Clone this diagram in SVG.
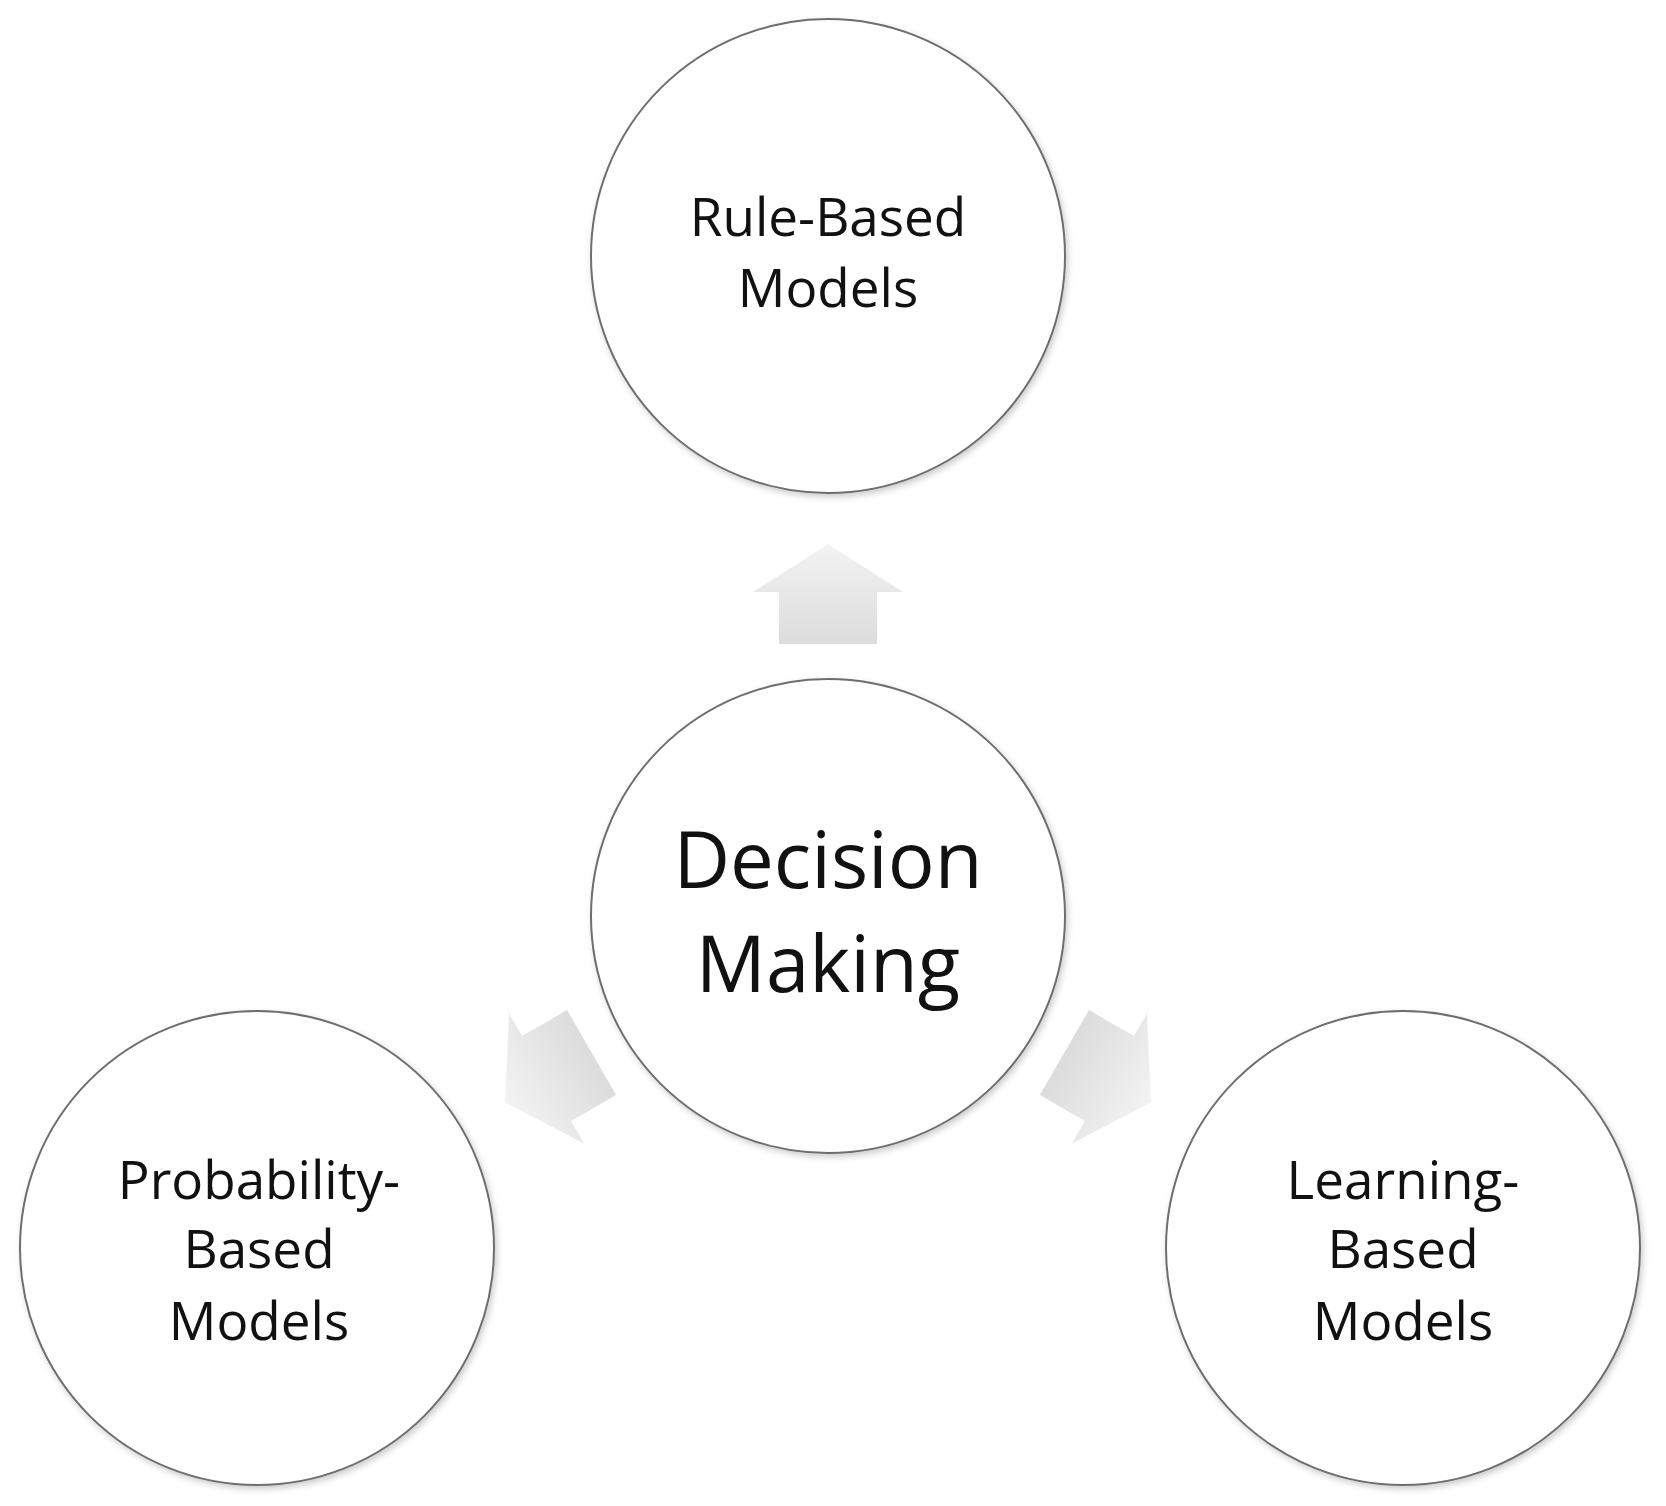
<svg xmlns="http://www.w3.org/2000/svg" width="1666" height="1506" viewBox="0 0 1666 1506">
<style>
.c{fill:#fff;stroke:#6e6e6e;stroke-width:2}
.t{font-family:"Open Sans","Liberation Sans",sans-serif;fill:#111;text-anchor:middle}
.s{font-size:53px}
.b{font-size:78px}
.a{fill:url(#g)}
</style>
<defs>
<linearGradient id="g" x1="0" y1="0" x2="0" y2="1">
<stop offset="0" stop-color="#f3f3f3"/><stop offset="1" stop-color="#dcdcdc"/>
</linearGradient>
<filter id="sh" x="-10%" y="-10%" width="120%" height="120%"><feDropShadow dx="2" dy="3" stdDeviation="3" flood-color="#000" flood-opacity="0.2"/></filter>
<path id="arr" d="M0,-50 L75,-2 L49,-2 L49,50 L-49,50 L-49,-2 L-75,-2 Z"/>
</defs>
<rect width="1666" height="1506" fill="#fff"/>
<g id="connectors">
<use href="#arr" class="a" transform="translate(828,594)"/>
<use href="#arr" class="a" transform="translate(828,916) rotate(-120) translate(0,-323)"/>
<use href="#arr" class="a" transform="translate(828,916) rotate(120) translate(0,-323)"/>
</g>
<g id="rule"><circle class="c" filter="url(#sh)" cx="828" cy="256" r="237"/>
<text class="t s" x="828" y="236">Rule-Based</text><text class="t s" x="828" y="307">Models</text></g>
<g id="decision"><circle class="c" filter="url(#sh)" cx="828" cy="916" r="237"/>
<text class="t b" x="828" y="888">Decision</text><text class="t b" x="828" y="992">Making</text></g>
<g id="probability"><circle class="c" filter="url(#sh)" cx="257" cy="1248" r="237"/>
<text class="t s" x="259" y="1199">Probability-</text><text class="t s" x="259" y="1268">Based</text><text class="t s" x="259" y="1340">Models</text></g>
<g id="learning"><circle class="c" filter="url(#sh)" cx="1403" cy="1248" r="237"/>
<text class="t s" x="1403" y="1199">Learning-</text><text class="t s" x="1403" y="1268">Based</text><text class="t s" x="1403" y="1340">Models</text></g>
</svg>
